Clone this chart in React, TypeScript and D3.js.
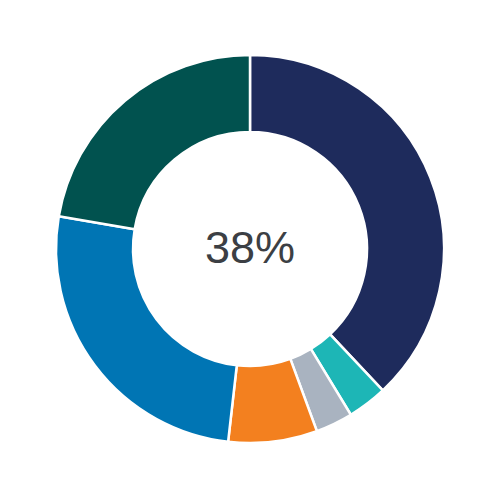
import React from 'react';
import * as d3 from 'd3';

const categories = ['A', 'B', 'C', 'D', 'E', 'F'];
const values = [38, 3.3, 3.1, 7.4, 25.9, 22.3];
const colors = ['#1e2b5c', '#1db6b6', '#a9b3c0', '#f3801f', '#0075b4', '#01524f'];
const centerLabel = '38%';

export default function App() {
    const width = 500;
    const height = 500;
    const cx = 250;
    const cy = 249;

    const pie = d3.pie<number>().sort(null).value(d => d);
    const arc = d3.arc<d3.PieArcDatum<number>>()
        .innerRadius(117)
        .outerRadius(194);
    const arcs = pie(values);

    return (
        <svg width={width} height={height} style={{ position: 'absolute', left: 0, top: 0 }}>
            <rect width={width} height={height} fill="#fff" />
            <g transform={`translate(${cx},${cy})`}>
                {arcs.map((a, i) => (
                    <path
                        key={categories[i]}
                        d={arc(a) || ''}
                        fill={colors[i]}
                        stroke="#fff"
                        strokeWidth={2.5}
                    />
                ))}
                <text
                    x={0}
                    y={0}
                    dy="0.3em"
                    textAnchor="middle"
                    fontFamily="Liberation Sans, Arial, sans-serif"
                    fontSize={45}
                    fill="#3c3f44"
                >
                    {centerLabel}
                </text>
            </g>
        </svg>
    );
}
